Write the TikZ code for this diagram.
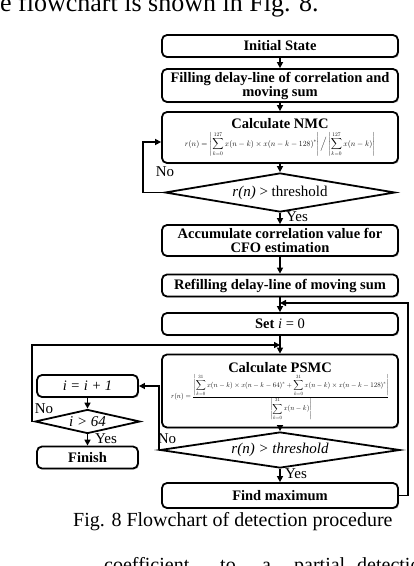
\documentclass[tikz,border=0pt]{standalone}
\usepackage{fontspec}
\setmainfont{Liberation Serif}
\usepackage{amsmath}
\usetikzlibrary{arrows.meta,shapes.geometric,shadows}
\begin{document}
\begin{tikzpicture}[x=1pt,y=-1pt,
  box/.style={draw, line width=1.8pt, rounded corners=5pt, minimum width=236pt, inner sep=1pt,
    align=center, fill=white, font=\bfseries\fontsize{14.5}{14}\selectfont,
    drop shadow={shadow xshift=1.2pt, shadow yshift=-1.2pt, opacity=.35}},
  sbox/.style={box, minimum width=101pt},
  dec/.style={draw, diamond, line width=1.8pt, inner sep=0pt, aspect=6, fill=white,
    font=\fontsize{15}{16}\selectfont},
  arr/.style={line width=1.5pt, -{Triangle[length=6pt,width=6pt]}},
  lbl/.style={inner sep=0pt, font=\fontsize{15}{16}\selectfont},
  body/.style={inner sep=0pt, anchor=base west, font=\fontsize{20}{22}\selectfont}
]
\useasboundingbox (0,0) rectangle (414,566);
\clip (0,0) rectangle (414,566);

% surrounding text
\node[body, font=\fontsize{26}{28}\selectfont] (top) at (0,11.5) {e flowchart is shown in Fig. 8.};
\node[body] (cap) at (73,526) {Fig. 8 Flowchart of detection procedure};
\node[body] (b1) at (104,571) {coefficient};
\node[body] (b2) at (220,571) {to};
\node[body] (b3) at (262,571) {a};
\node[body] (b4) at (294,571) {partial};
\node[body] (b5) at (357,571) {detection};

% main column
\node[box, minimum height=22pt] (init) at (280,46) {Initial State};
\node[box, minimum height=33pt] (fill) at (280,85.5) {Filling delay-line of correlation and\\ moving sum};
\node[box, minimum height=51pt] (nmc) at (280,137.5) {Calculate NMC\\[2pt]
  \mdseries\resizebox{190pt}{!}{$r(n)=\left|\displaystyle\sum_{k=0}^{127}x(n-k)\times x(n-k-128)^{*}\right|\Big/\left|\displaystyle\sum_{k=0}^{127}x(n-k)\right|$}};
\node[dec, minimum width=230pt, minimum height=39pt] (d1) at (280,192.5) {\textit{r(n)} > threshold};
\node[box, minimum height=31pt] (acc) at (280,240.5) {Accumulate correlation value for\\ CFO estimation};
\node[box, minimum height=22pt] (ref) at (280,285.5) {Refilling delay-line of moving sum};
\node[box, minimum height=22pt] (set) at (280,324) {Set \mdseries\textit{i} = 0};
\node[box, minimum height=73pt] (psmc) at (280,391) {Calculate PSMC\\[1pt]
  \mdseries\resizebox{218pt}{!}{$r(n)=\dfrac{\left|\displaystyle\sum_{k=0}^{31}x(n-k)\times x(n-k-64)^{*}+\displaystyle\sum_{k=0}^{31}x(n-k)\times x(n-k-128)^{*}\right|}{\left|\displaystyle\sum_{k=0}^{31}x(n-k)\right|}$}};
\node[dec, minimum width=240pt, minimum height=36pt] (d2) at (280,450) {\textit{r(n) > threshold}};
\node[box, minimum height=25pt] (find) at (280,495.5) {Find maximum};

% left column
\node[sbox, minimum height=22pt] (inc) at (87.5,386) {\mdseries\textit{i = i + 1}};
\node[dec, minimum width=105pt, minimum height=24pt] (d3) at (87.5,421.5) {\textit{i > 64}};
\node[sbox, minimum height=22pt] (fin) at (87.5,457.5) {Finish};

% junctions
\coordinate (j1) at (280,303);
\coordinate (j2) at (280,345);
\coordinate (rr) at (408,303);
\coordinate (ll) at (32,345);
\coordinate (nl) at (143,142);

% connectors
\draw[arr] (init) -- (fill);
\draw[arr] (fill) -- (nmc);
\draw[arr] (nmc) -- (d1);
\draw[arr] (d1) -- (acc);
\draw[arr] (acc) -- (ref);
\draw[arr] (ref) -- (set);
\draw[arr] (set) -- (psmc);
\draw[arr] (psmc) -- (d2);
\draw[arr] (d2) -- (find);
\draw[arr] (d1.west) -| (nl) -- (nl -| nmc.west);
\draw[arr] (find.east) -| (rr) -- (j1);
\draw[arr] (d3.west) -| (ll) -- (j2);
\draw[arr] (d2.west) |- (inc.east);
\draw[arr] (inc) -- (d3);
\draw[arr] (d3) -- (fin);

% labels
\node[lbl] (n1) at (165,172) {No};
\node[lbl] (y1) at (297,217) {Yes};
\node[lbl] (n2) at (167,439) {No};
\node[lbl] (y2) at (296,474) {Yes};
\node[lbl] (n3) at (44,409) {No};
\node[lbl] (y3) at (106,439) {Yes};
\end{tikzpicture}
\end{document}
